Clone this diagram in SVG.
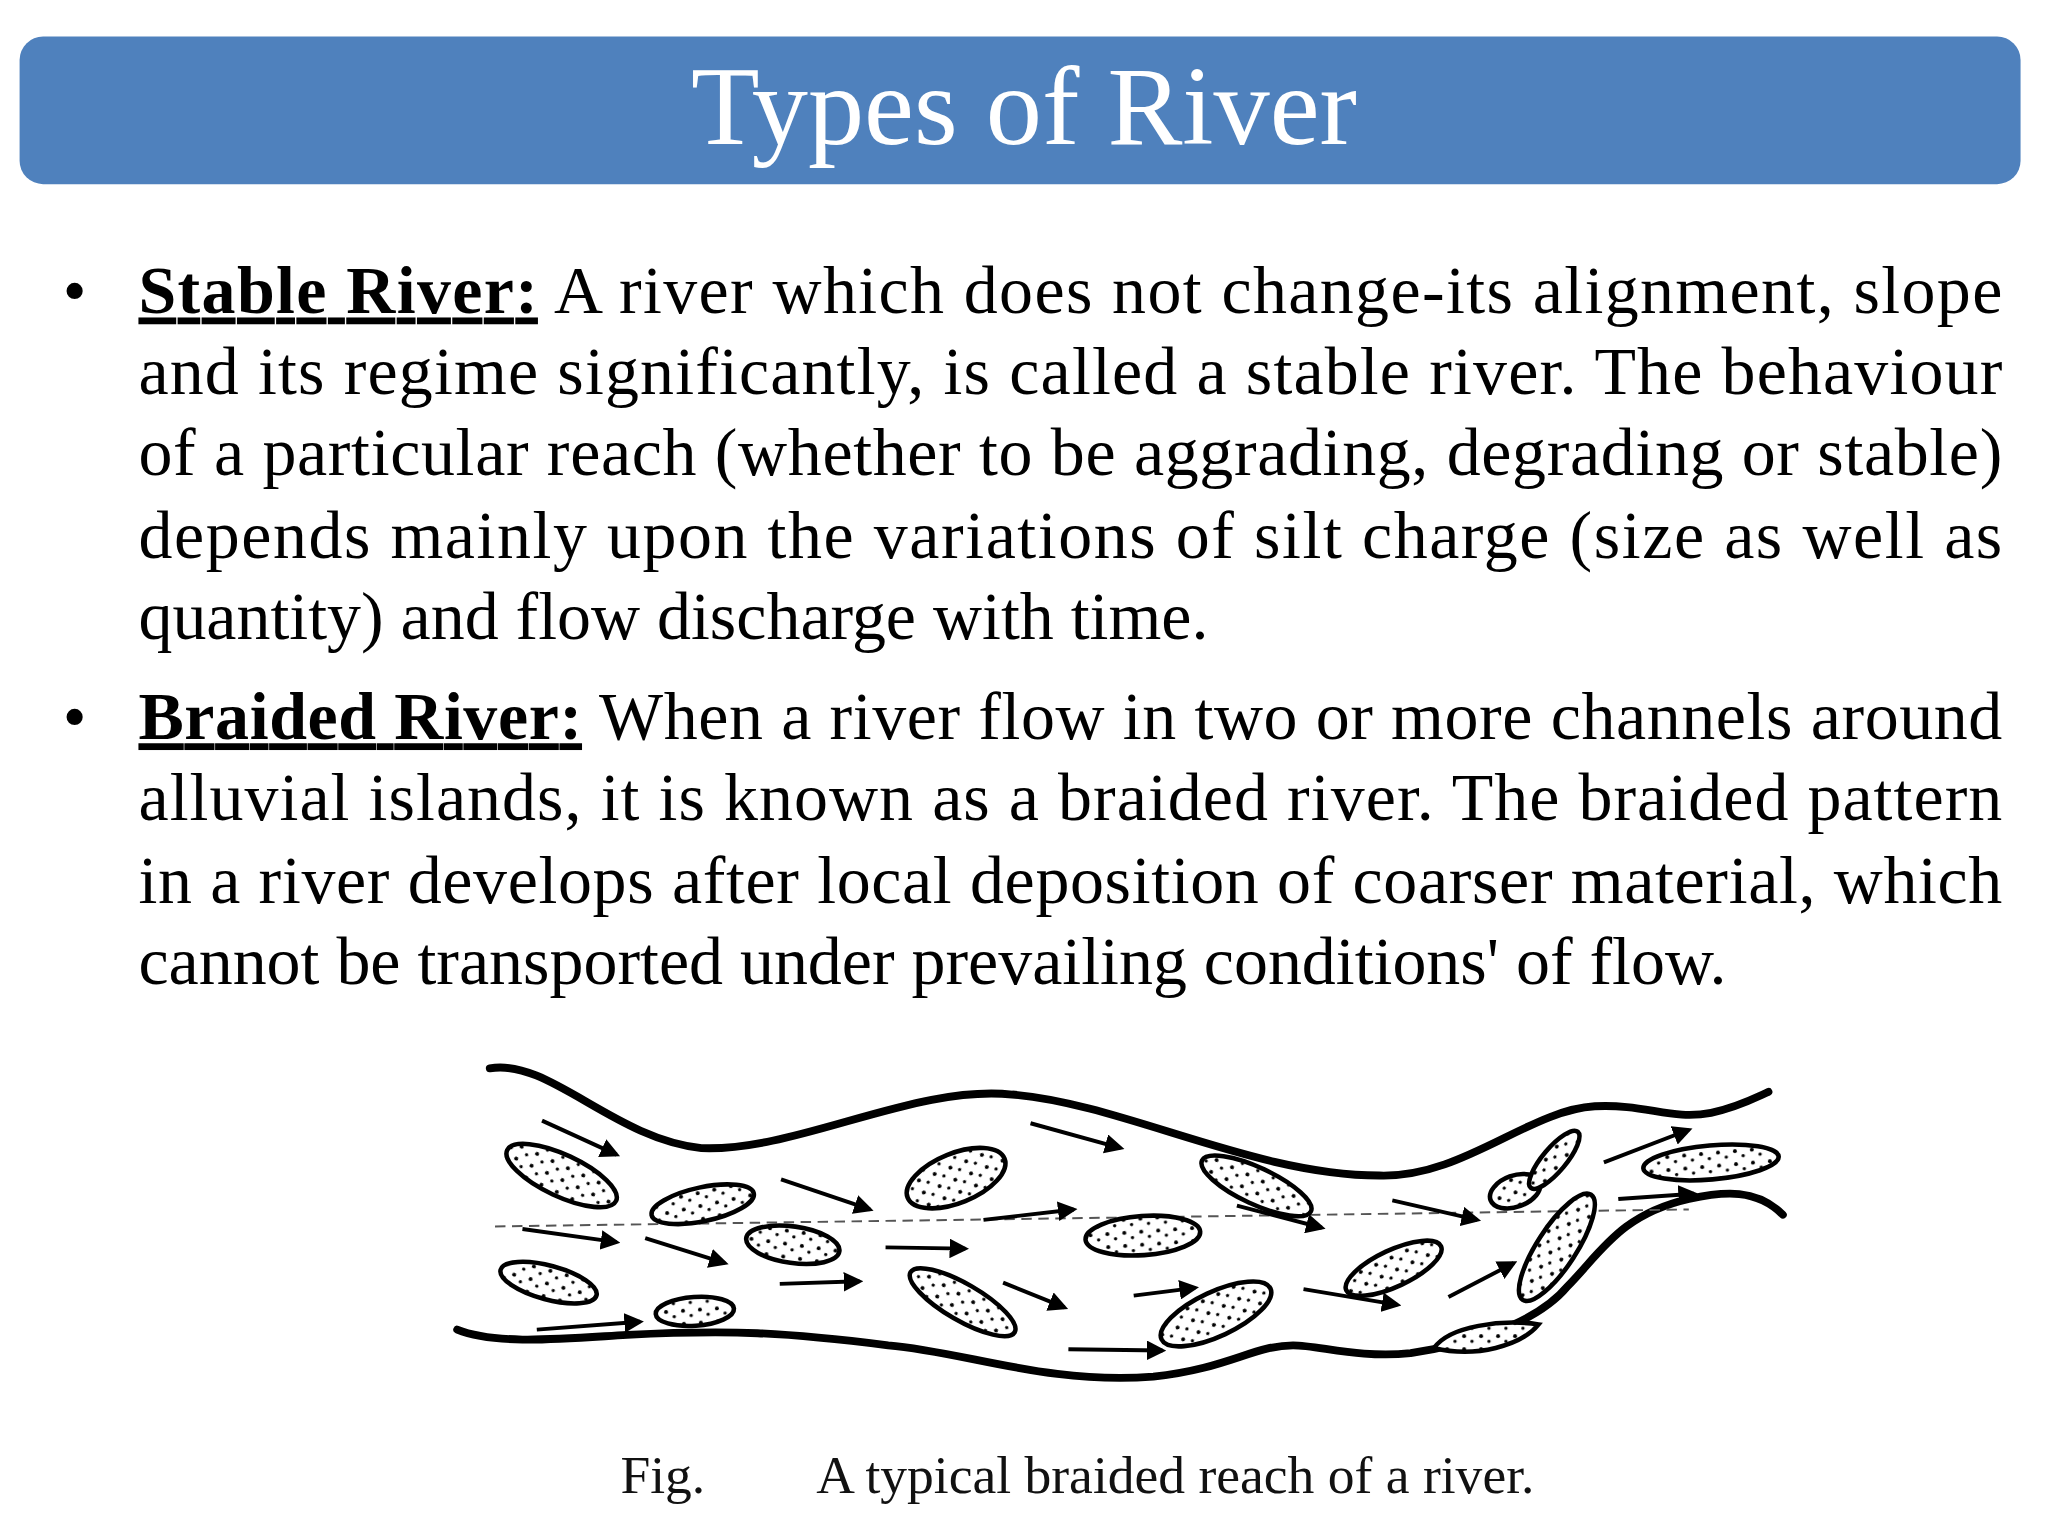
<svg xmlns="http://www.w3.org/2000/svg" width="2048" height="1536" viewBox="0 0 2048 1536">
<style>
.t{font-family:"Liberation Serif",serif;font-size:52px;fill:#000}
.b{font-weight:bold;text-decoration:underline}
.bank{fill:none;stroke:#000;stroke-width:6;stroke-linecap:round;stroke-linejoin:round}
.isl{fill:url(#dots);stroke:#000;stroke-width:3.5}
.arr{stroke:#000;stroke-width:3;marker-end:url(#ah)}
.cap{font-family:"Liberation Serif",serif;font-size:41px;fill:#111}
</style>
<defs>
<pattern id="dots" width="13" height="10" patternUnits="userSpaceOnUse">
<rect width="13" height="10" fill="#fff"/>
<circle cx="3" cy="3" r="1.5" fill="#000"/><circle cx="9" cy="7" r="1.3" fill="#000"/>
</pattern>
<marker id="ah" viewBox="0 0 10 10" refX="8" refY="5" markerWidth="5" markerHeight="5" orient="auto"><path d="M0,0 L10,5 L0,10 z" fill="#000"/></marker>
</defs>
<rect width="2048" height="1536" fill="#fff"/>
<g transform="scale(1.30612)">
<g id="header">
<rect x="15" y="28" width="1532" height="113" rx="18" fill="#4F81BD"/>
<text x="784" y="110" text-anchor="middle" style="font-family:'Liberation Serif',serif;font-size:86px;fill:#fff">Types of River</text>
</g>
<g id="stable">
<text class="t" x="48" y="240">•</text>
<text class="t" x="106" y="240" textLength="1427" lengthAdjust="spacing"><tspan class="b">Stable River:</tspan> A river which does not change-its alignment, slope</text>
<text class="t" x="106" y="302" textLength="1427" lengthAdjust="spacing">and its regime significantly, is called a stable river. The behaviour</text>
<text class="t" x="106" y="364" textLength="1427" lengthAdjust="spacing">of a particular reach (whether to be aggrading, degrading or stable)</text>
<text class="t" x="106" y="427" textLength="1427" lengthAdjust="spacing">depends mainly upon the variations of silt charge (size as well as</text>
<text class="t" x="106" y="489">quantity) and flow discharge with time.</text>
</g>
<g id="braided">
<text class="t" x="48" y="566">•</text>
<text class="t" x="106" y="566" textLength="1427" lengthAdjust="spacing"><tspan class="b">Braided River:</tspan> When a river flow in two or more channels around</text>
<text class="t" x="106" y="628" textLength="1427" lengthAdjust="spacing">alluvial islands, it is known as a braided river. The braided pattern</text>
<text class="t" x="106" y="691" textLength="1427" lengthAdjust="spacing">in a river develops after local deposition of coarser material, which</text>
<text class="t" x="106" y="753">cannot be transported under prevailing conditions' of flow.</text>
</g>
<g id="figure">
<path class="bank" d="M375,818 C420,810 470,872 537,879 C610,882 700,830 775,838 C860,845 960,900 1056,900 C1120,902 1170,850 1221,847 C1260,845 1280,858 1310,852 C1330,848 1345,840 1354,836"/>
<path class="bank" d="M350,1018 C380,1030 430,1025 480,1022 C560,1018 600,1020 680,1030 C740,1035 800,1060 883,1054 C940,1048 960,1030 990,1030 C1010,1030 1040,1040 1080,1036 C1120,1030 1175,1015 1200,985 C1225,960 1240,930 1293,918 C1320,912 1345,910 1365,930"/>
<line x1="379" y1="939" x2="1293" y2="926" stroke="#555" stroke-width="1.5" stroke-dasharray="8,5"/>
</g>
<g id="islands">
<ellipse class="isl" cx="430" cy="900" rx="46" ry="16" transform="rotate(25 430 900)"/>
<ellipse class="isl" cx="538" cy="922" rx="40" ry="13" transform="rotate(-12 538 922)"/>
<ellipse class="isl" cx="607" cy="953" rx="36" ry="14" transform="rotate(8 607 953)"/>
<ellipse class="isl" cx="732" cy="902" rx="40" ry="19" transform="rotate(-22 732 902)"/>
<ellipse class="isl" cx="420" cy="982" rx="38" ry="13" transform="rotate(15 420 982)"/>
<ellipse class="isl" cx="532" cy="1004" rx="30" ry="11" transform="rotate(-4 532 1004)"/>
<ellipse class="isl" cx="737" cy="997" rx="46" ry="14" transform="rotate(30 737 997)"/>
<ellipse class="isl" cx="875" cy="946" rx="44" ry="15" transform="rotate(-4 875 946)"/>
<ellipse class="isl" cx="962" cy="908" rx="46" ry="14" transform="rotate(25 962 908)"/>
<ellipse class="isl" cx="931" cy="1006" rx="46" ry="17" transform="rotate(-25 931 1006)"/>
<ellipse class="isl" cx="1067" cy="971" rx="40" ry="14" transform="rotate(-25 1067 971)"/>
<ellipse class="isl" cx="1160" cy="912" rx="20" ry="12" transform="rotate(-20 1160 912)"/>
<ellipse class="isl" cx="1190" cy="888" rx="28" ry="9" transform="rotate(-50 1190 888)"/>
<ellipse class="isl" cx="1192" cy="955" rx="48" ry="15" transform="rotate(-57 1192 955)"/>
<ellipse class="isl" cx="1310" cy="890" rx="52" ry="13" transform="rotate(-5 1310 890)"/>
<path class="isl" d="M1098,1032 C1110,1015 1150,1010 1178,1014 C1165,1030 1130,1040 1098,1032 z"/>
</g>
<g id="connectors">
<line class="arr" x1="415" y1="858" x2="472" y2="884"/>
<line class="arr" x1="598" y1="903" x2="666" y2="926"/>
<line class="arr" x1="753" y1="934" x2="822" y2="926"/>
<line class="arr" x1="789" y1="860" x2="858" y2="879"/>
<line class="arr" x1="400" y1="941" x2="472" y2="951"/>
<line class="arr" x1="494" y1="948" x2="555" y2="967"/>
<line class="arr" x1="678" y1="955" x2="739" y2="956"/>
<line class="arr" x1="597" y1="983" x2="658" y2="981"/>
<line class="arr" x1="411" y1="1018" x2="490" y2="1012"/>
<line class="arr" x1="768" y1="982" x2="815" y2="1001"/>
<line class="arr" x1="868" y1="992" x2="915" y2="986"/>
<line class="arr" x1="998" y1="987" x2="1070" y2="999"/>
<line class="arr" x1="818" y1="1033" x2="890" y2="1034"/>
<line class="arr" x1="947" y1="923" x2="1012" y2="940"/>
<line class="arr" x1="1066" y1="919" x2="1131" y2="934"/>
<line class="arr" x1="1109" y1="993" x2="1159" y2="967"/>
<line class="arr" x1="1228" y1="890" x2="1293" y2="865"/>
<line class="arr" x1="1239" y1="918" x2="1297" y2="914"/>
</g>
<g id="caption">
<text class="cap" x="475" y="1143">Fig.</text>
<text class="cap" x="625" y="1143">A typical braided reach of a river.</text>
</g>
</g>
</svg>
